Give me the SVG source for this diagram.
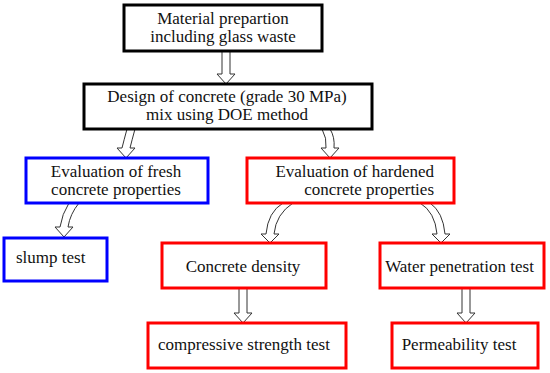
<svg xmlns="http://www.w3.org/2000/svg" width="550" height="373" viewBox="0 0 550 373">
<style>
.box{fill:#fff;stroke-width:3}
.k{stroke:#000}
.b{stroke:#0000ff}
.r{stroke:#ff0000}
.t{font-family:'Liberation Serif','Times New Roman',serif;font-size:17px;fill:#111}
.arr{fill:#fff;stroke:#333;stroke-width:1;stroke-linejoin:miter}
</style>
<rect width="550" height="373" fill="#fff"/>
<g id="connectors">
<path class="arr" d="M222,51 L230,51 L230,74 L235,74 L226,84 L217,74 L222,74 Z"/>
<path class="arr" d="M127,129 Q124,140 122,148 L117,148 L126,158 L135,148 L130,148 Q132,140 135,129 Z"/>
<path class="arr" d="M322,129 Q327,138 326,148 L321,148 L330,158 L339,148 L334,148 Q335,137 330,129 Z"/>
<path class="arr" d="M69,203 Q62,214 60,227 L55,227 L64,237 L73,227 L68,227 Q70,214 79,203 Z"/>
<path class="arr" d="M283,203 Q268,212 266,234 L261,234 L270,243 L279,234 L274,234 Q276,214 293,203 Z"/>
<path class="arr" d="M420,203 Q435,212 437,234 L432,234 L441,243 L450,234 L445,234 Q443,212 430,203 Z"/>
<path class="arr" d="M239,288 L247,288 L247,313 L252,313 L243,323 L234,313 L239,313 Z"/>
<path class="arr" d="M462,288 L470,288 L470,313 L475,313 L466,323 L457,313 L462,313 Z"/>
</g>
<g id="n1"><rect class="box k" x="124" y="5" width="198" height="46"/>
<text class="t" x="223" y="24" text-anchor="middle">Material prepartion</text>
<text class="t" x="223" y="42" text-anchor="middle">including glass waste</text></g>
<g id="n2"><rect class="box k" x="84" y="84" width="288" height="45"/>
<text class="t" x="227" y="102" text-anchor="middle">Design of concrete (grade 30 MPa)</text>
<text class="t" x="227" y="120" text-anchor="middle">mix using DOE method</text></g>
<g id="n3"><rect class="box b" x="26" y="158" width="182" height="45"/>
<text class="t" x="116" y="177" text-anchor="middle">Evaluation of fresh</text>
<text class="t" x="116" y="195" text-anchor="middle">concrete properties</text></g>
<g id="n4"><rect class="box r" x="247" y="158" width="207" height="45"/>
<text class="t" x="434" y="177" text-anchor="end">Evaluation of hardened</text>
<text class="t" x="434" y="195" text-anchor="end">concrete properties</text></g>
<g id="n5"><rect class="box b" x="4" y="238" width="103" height="43"/>
<text class="t" x="16" y="263">slump test</text></g>
<g id="n6"><rect class="box r" x="162" y="243" width="164" height="45"/>
<text class="t" x="243" y="272" text-anchor="middle">Concrete density</text></g>
<g id="n7"><rect class="box r" x="380" y="243" width="164" height="45"/>
<text class="t" x="459.5" y="272" text-anchor="middle">Water penetration test</text></g>
<g id="n8"><rect class="box r" x="148" y="323" width="198" height="45"/>
<text class="t" x="244" y="350" text-anchor="middle">compressive strength test</text></g>
<g id="n9"><rect class="box r" x="392" y="323" width="146" height="45"/>
<text class="t" x="459" y="350" text-anchor="middle">Permeability test</text></g>
</svg>
